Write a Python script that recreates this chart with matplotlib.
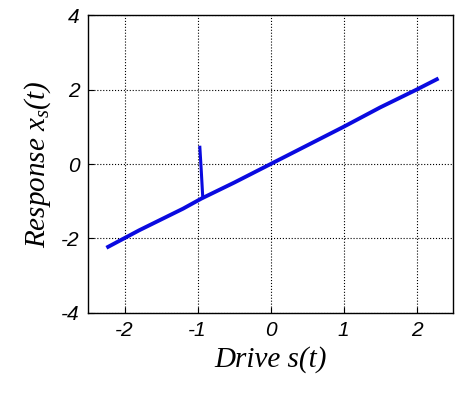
import matplotlib
matplotlib.use("Agg")
import matplotlib.pyplot as plt

plt.rcParams["mathtext.fontset"] = "custom"
plt.rcParams["mathtext.it"] = "Liberation Serif:italic"
plt.rcParams["mathtext.rm"] = "Liberation Serif:italic"

drive = [-2.25, -1.8, -1.2, -0.95, -0.5, 0.0, 0.5, 1.0, 1.5, 2.0, 2.3]
response = [-2.25, -1.78, -1.2, -0.93, -0.5, 0.0, 0.5, 1.0, 1.52, 2.0, 2.3]
spike_x = [-0.93, -0.95, -0.97]
spike_y = [-0.9, -0.2, 0.45]
xticks = [-2, -1, 0, 1, 2]
yticks = [-4, -2, 0, 2, 4]

fig = plt.figure(figsize=(4.74, 4.09), dpi=100)
ax = fig.add_axes([0.186, 0.235, 0.77, 0.728])
ax.plot(drive, response, color="#0a0ae0", lw=2.8, solid_capstyle="butt")
ax.plot(spike_x, spike_y, color="#0a0ae0", lw=2.2)
ax.set_xlim(-2.5, 2.5)
ax.set_ylim(-4, 4)
ax.set_xticks(xticks)
ax.set_yticks(yticks)
ax.set_xticklabels([str(t) for t in xticks], fontsize=15, fontstyle="italic", family="Liberation Sans")
ax.set_yticklabels([str(t) for t in yticks], fontsize=15, fontstyle="italic", family="Liberation Sans")
ax.grid(True, color="black", linestyle=":", lw=0.8)
ax.tick_params(direction="in", length=4, pad=6)
for s in ax.spines.values():
    s.set_linewidth(1.0)
ax.set_xlabel("Drive s(t)", fontsize=21, fontstyle="italic", family="Liberation Serif", labelpad=4)
ax.set_ylabel("Response $x_s$(t)", fontsize=21, fontstyle="italic", family="Liberation Serif", labelpad=6)
fig.savefig("out.png", dpi=100, facecolor="white")
